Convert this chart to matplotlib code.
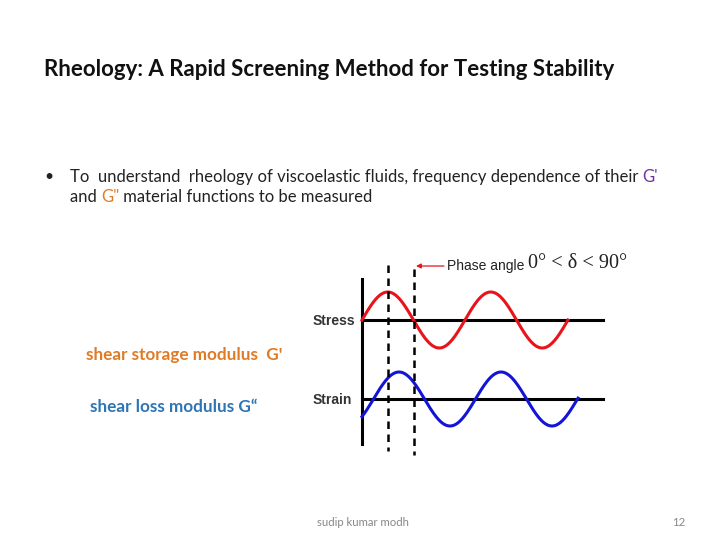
import numpy as np
import matplotlib.pyplot as plt

# slide text
title = "Rheology: A Rapid Screening Method for Testing Stability"
bullet_parts = [("To  understand  rheology of viscoelastic fluids, frequency dependence of their ", "#222222"),
                ("G'", "#7030A0")]
bullet_parts2 = [("and ", "#222222"), ('G"', "#E07B25"), (" material functions to be measured", "#222222")]
storage_label = "shear storage modulus  G'"
loss_label = "shear loss modulus G\u201c"
footer = "sudip kumar modh"
page = "12"

# wave diagram, read in slide pixels
stress_x = [362, 568]          # start, end
stress_amp = 28
stress_period = 103
stress_zero = 362              # upward zero crossing
strain_x = [362, 578]
strain_amp = 27
strain_period = 102
strain_zero = 373.5
stress_base = 320
strain_base = 399
dash_x = [388, 414]

fig = plt.figure(figsize=(7.28, 5.46), dpi=100)
ax = fig.add_axes([0, 0, 1, 1])
ax.set_xlim(0, 728)
ax.set_ylim(546, 0)
ax.axis("off")

ax.text(44, 69, title, fontsize=16, fontweight="bold", family="Lato",
        color="#111111", va="center")

fig.canvas.draw()
r = fig.canvas.get_renderer()
inv = ax.transData.inverted()


def row(parts, x, y):
    for s, c in parts:
        t = ax.text(x, y, s, fontsize=12, family="Lato", color=c, va="center")
        bb = t.get_window_extent(renderer=r)
        x = inv.transform((bb.x1, bb.y0))[0]


ax.text(44, 177, "\u2022", fontsize=11.5, family="Lato", color="#222222", va="center")
row(bullet_parts, 70, 177)
row(bullet_parts2, 70, 197)

ax.text(86, 355, storage_label, fontsize=12.3, fontweight="bold", family="Lato",
        color="#E07B25", va="center")
ax.text(90, 407, loss_label, fontsize=12.3, fontweight="bold", family="Lato",
        color="#2E75B6", va="center")

# axes of the diagram
ax.plot([362, 362], [279, 444], color="black", lw=2.2)
ax.plot([362, 603], [stress_base, stress_base], color="black", lw=2.2)
ax.plot([362, 603], [strain_base, strain_base], color="black", lw=2.2)

xs = np.linspace(stress_x[0], stress_x[1], 400)
ax.plot(xs, stress_base - stress_amp * np.sin(2 * np.pi * (xs - stress_zero) / stress_period),
        color="#E8141B", lw=2.2)
xb = np.linspace(strain_x[0], strain_x[1], 400)
ax.plot(xb, strain_base - strain_amp * np.sin(2 * np.pi * (xb - strain_zero) / strain_period),
        color="#1414D8", lw=2.2)

ax.plot([dash_x[0]] * 2, [265, 451], color="black", lw=1.8, ls=(0, (3, 2.2)))
ax.plot([dash_x[1]] * 2, [269, 455], color="black", lw=1.8, ls=(0, (3, 2.2)))

ax.annotate("", xy=(416, 266), xytext=(444, 266),
            arrowprops=dict(arrowstyle="-|>", color="#E8141B", lw=0.9,
                            mutation_scale=7, shrinkA=0, shrinkB=0))
t = ax.text(447, 266, "Phase angle ", fontsize=10, family="Liberation Sans",
            color="#222222", va="center")
bb = t.get_window_extent(renderer=r)
xm = inv.transform((bb.x1, bb.y0))[0]
ax.text(xm, 264, "0\u00b0 < \u03b4 < 90\u00b0", fontsize=14.6, family="Liberation Serif",
        color="#222222", va="center")

ax.text(313, 321, "Stress", fontsize=10, fontweight="bold", family="Liberation Sans",
        color="#333333", va="center")
ax.text(313, 400, "Strain", fontsize=10, fontweight="bold", family="Liberation Sans",
        color="#333333", va="center")

ax.text(317, 522, footer, fontsize=8.2, family="Lato", color="#888888", va="center")
ax.text(672, 522, page, fontsize=8.2, family="Lato", color="#888888", va="center")

fig.savefig("out.png", dpi=100)
